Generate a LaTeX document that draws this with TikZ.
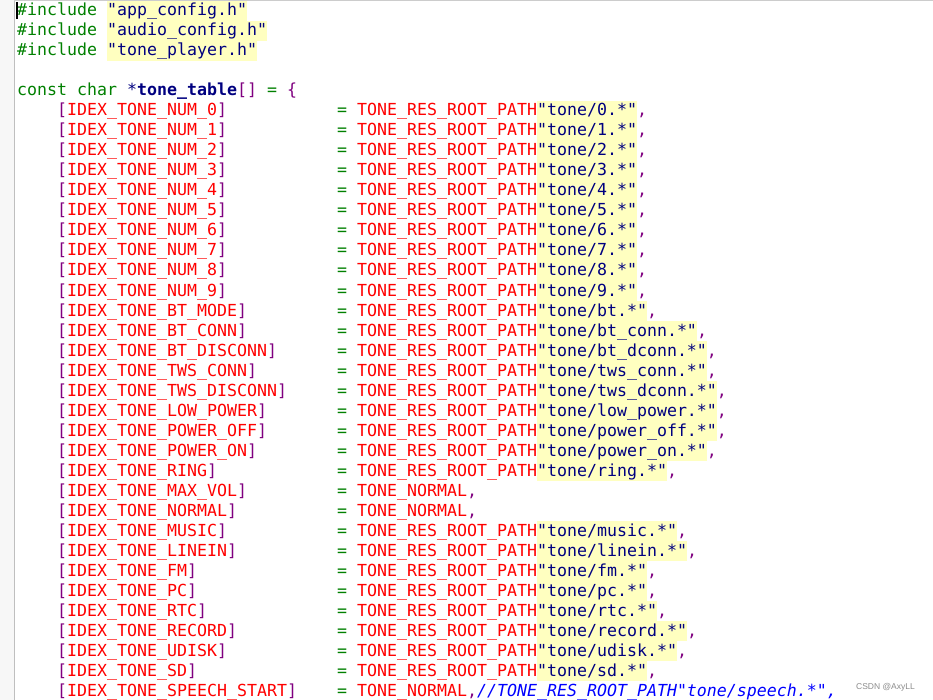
\documentclass[tikz,border=0pt]{standalone}
\usepackage{fontspec}
\setmonofont{DejaVu Sans Mono}
\setsansfont{Liberation Sans}
\definecolor{gr}{RGB}{0,128,0}
\definecolor{rd}{RGB}{255,0,0}
\definecolor{br}{RGB}{128,0,128}
\definecolor{nv}{RGB}{0,0,128}
\definecolor{hl}{RGB}{255,255,192}
\definecolor{cm}{RGB}{0,0,255}
\newcommand{\hlx}[1]{{\fboxsep=0pt\colorbox{hl}{\rule[-5pt]{0pt}{20pt}#1}}}
\tikzset{code/.style={anchor=base west,inner sep=0pt,font=\ttfamily\fontsize{16.6}{20}\selectfont}}
\begin{document}
\begin{tikzpicture}[x=1pt,y=-1pt]
\useasboundingbox (0,0) rectangle (933,700);
\fill[white] (0,0) rectangle (933,700);
\fill[black!3] (0,0) rectangle (14,700);
\draw[black!25] (14,0) -- (14,700);
\draw[black!20] (14,0.5) -- (933,0.5);
\node[code] (i1) at (17,16) {\textcolor{gr}{\#include\ }\textcolor{nv}{\hlx{"app\_config.h"}}};
\node[code] (i2) at (17,36) {\textcolor{gr}{\#include\ }\textcolor{nv}{\hlx{"audio\_config.h"}}};
\node[code] (i3) at (17,56) {\textcolor{gr}{\#include\ }\textcolor{nv}{\hlx{"tone\_player.h"}}};
\fill[black] (16,2) rectangle (18,19);
\node[code] (c) at (17,96) {\textcolor{gr}{const\ char\ }\textcolor{nv}{*\textbf{tone\_table}}\textcolor{br}{[]}\textcolor{gr}{\ =\ }\textcolor{br}{\{}};
\foreach \k/\n/\t/\s in {
5/NUM\_0/P/0, 6/NUM\_1/P/1, 7/NUM\_2/P/2, 8/NUM\_3/P/3, 9/NUM\_4/P/4,
10/NUM\_5/P/5, 11/NUM\_6/P/6, 12/NUM\_7/P/7, 13/NUM\_8/P/8, 14/NUM\_9/P/9,
15/BT\_MODE/P/bt, 16/BT\_CONN/P/bt\_conn, 17/BT\_DISCONN/P/bt\_dconn,
18/TWS\_CONN/P/tws\_conn, 19/TWS\_DISCONN/P/tws\_dconn, 20/LOW\_POWER/P/low\_power,
21/POWER\_OFF/P/power\_off, 22/POWER\_ON/P/power\_on, 23/RING/P/ring,
24/MAX\_VOL/N/x, 25/NORMAL/N/x, 26/MUSIC/P/music, 27/LINEIN/P/linein,
28/FM/P/fm, 29/PC/P/pc, 30/RTC/P/rtc, 31/RECORD/P/record, 32/UDISK/P/udisk,
33/SD/P/sd, 34/SPEECH\_START/S/x}{
  \pgfmathsetmacro{\yy}{16+20*\k}
  \node[code] (n\k) at (57,\yy) {\textcolor{br}{[}\textcolor{rd}{IDEX\_TONE\_\n}\textcolor{br}{]}};
  \node[code] (e\k) at (337,\yy) {\textcolor{gr}{=}};
  \if P\t
    \node[code] (v\k) at (357,\yy) {\textcolor{rd}{TONE\_RES\_ROOT\_PATH}\textcolor{nv}{\hlx{"tone/\s.*"}}\textcolor{br}{,}};
  \fi
  \if N\t
    \node[code] (v\k) at (357,\yy) {\textcolor{rd}{TONE\_NORMAL}\textcolor{br}{,}};
  \fi
  \if S\t
    \node[code] (v\k) at (357,\yy) {\textcolor{rd}{TONE\_NORMAL}\textcolor{br}{,}\textcolor{cm}{\itshape //TONE\_RES\_ROOT\_PATH"tone/speech.*",}};
  \fi
}
\node[anchor=base east,inner sep=0pt,text=black!45,font=\sffamily\fontsize{8.5}{10}\selectfont] (wm) at (915,689) {CSDN @AxyLL};
\end{tikzpicture}
\end{document}
